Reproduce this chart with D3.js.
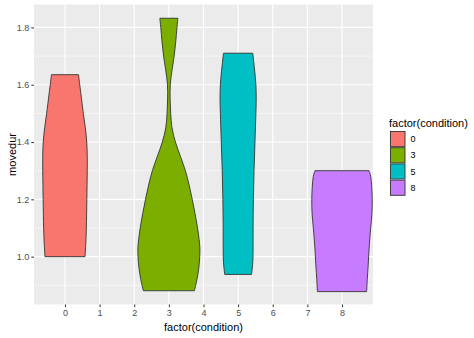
<!DOCTYPE html>
<html><head><meta charset="utf-8">
<script src="https://cdn.jsdelivr.net/npm/d3@7"></script>
<style>body{margin:0;background:#fff;} text{font-family:"Liberation Sans",Arial,sans-serif;}</style>
</head><body><svg id="c" width="474" height="338"></svg>
<script>
const categories = ["0","1","2","3","4","5","6","7","8"];
const groups = ["0","3","5","8"];
const groupColors = ["#F8766D","#7CAE00","#00BFC4","#C77CFF"];
const yTicks = [1.0,1.2,1.4,1.6,1.8];
const yMinor = [0.9,1.1,1.3,1.5,1.7];
// violin profiles: [movedur, relative density (1 = widest)]
const violin0 = [[1.0,.643],[1.05,.669],[1.1,.685],[1.2,.701],[1.3,.714],[1.35,.714],[1.4,.698],[1.45,.653],[1.5,.588],[1.55,.531],[1.6,.473],[1.635,.434]];
const violin3 = [[0.881,.82],[0.92,.90],[0.96,.96],[1.0,.99],[1.03,.995],[1.06,.97],[1.1,.92],[1.15,.84],[1.2,.75],[1.25,.65],[1.3,.53],[1.35,.37],[1.4,.21],[1.45,.10],[1.5,.058],[1.55,.04],[1.6,.045],[1.65,.10],[1.7,.17],[1.75,.22],[1.8,.26],[1.832,.29]];
const violin5 = [[0.938,.43],[0.98,.47],[1.05,.48],[1.1,.48],[1.2,.49],[1.3,.51],[1.4,.54],[1.5,.57],[1.55,.58],[1.6,.57],[1.65,.53],[1.7,.48],[1.71,.47]];
const violin8 = [[0.878,.79],[0.92,.81],[0.97,.84],[1.03,.87],[1.1,.92],[1.15,.96],[1.2,.97],[1.25,.95],[1.28,.92],[1.30,.87]];
const violins = [violin0, violin3, violin5, violin8];

const svg = d3.select("#c");
const P = {l:34, r:373, t:4.5, b:304.5};
const x = d3.scaleLinear().domain([-0.895, 8.895]).range([P.l, P.r]);
const y = d3.scaleLinear().domain([0.833, 1.880]).range([P.b, P.t]);
const w = d3.scaleLinear().domain([0,1]).range([0,0.9]); // density -> half width in x units

svg.append("rect").attr("x",P.l).attr("y",P.t).attr("width",P.r-P.l).attr("height",P.b-P.t).attr("fill","#EBEBEB");
const g = svg.append("g");
g.selectAll(".ymin").data(yMinor).join("line").attr("x1",P.l).attr("x2",P.r)
  .attr("y1",d=>y(d)).attr("y2",d=>y(d)).attr("stroke","#fff").attr("stroke-width",0.55);
g.selectAll(".ymaj").data(yTicks).join("line").attr("x1",P.l).attr("x2",P.r)
  .attr("y1",d=>y(d)).attr("y2",d=>y(d)).attr("stroke","#fff").attr("stroke-width",1.1);
g.selectAll(".xmaj").data(categories).join("line").attr("y1",P.t).attr("y2",P.b)
  .attr("x1",(d,i)=>x(i)).attr("x2",(d,i)=>x(i)).attr("stroke","#fff").attr("stroke-width",1.1);

violins.forEach((v,k)=>{
  const cx = categories.indexOf(groups[k]);
  const area = d3.area().curve(d3.curveCatmullRom.alpha(0.5))
    .y(d=>y(d[0]))
    .x0(d=>x(cx - w(d[1])))
    .x1(d=>x(cx + w(d[1])));
  svg.append("path").datum(v).attr("d",area)
    .attr("fill",groupColors[k]).attr("stroke","#333333").attr("stroke-width",0.9);
});

// axes
const yAxis = svg.append("g").attr("transform",`translate(${P.l},0)`)
  .call(d3.axisLeft(y).tickValues(yTicks).tickFormat(d3.format(".1f")).tickSize(2.7).tickPadding(2));
const xAxis = svg.append("g").attr("transform",`translate(0,${P.b})`)
  .call(d3.axisBottom(x).tickValues(d3.range(categories.length)).tickFormat(i=>categories[i]).tickSize(2.7).tickPadding(2.5));
[yAxis,xAxis].forEach(a=>{
  a.select(".domain").remove();
  a.selectAll(".tick line").attr("stroke","#333333").attr("stroke-width",1);
  a.selectAll(".tick text").attr("fill","#4D4D4D").style("font-size","9px");
});

svg.append("text").attr("x",(P.l+P.r)/2).attr("y",331).attr("text-anchor","middle")
  .style("font-size","11px").attr("fill","#000").text("factor(condition)");
svg.append("text").attr("transform",`translate(12.5,${(P.t+P.b)/2}) rotate(-90)`).attr("text-anchor","middle")
  .attr("dy","0.35em").style("font-size","11px").attr("fill","#000").text("movedur");

// legend
const L = svg.append("g");
L.append("text").attr("x",389).attr("y",126.5).style("font-size","11px").attr("fill","#000").text("factor(condition)");
const ks = 16.2;
groups.forEach((gname,i)=>{
  const ky = 131 + i*ks;
  L.append("rect").attr("x",389.5).attr("y",ky).attr("width",16).attr("height",ks).attr("fill","#F2F2F2");
  L.append("rect").attr("x",390.5).attr("y",ky+0.5).attr("width",14.5).attr("height",ks-1)
    .attr("fill",groupColors[i]).attr("stroke","#333333").attr("stroke-width",0.9);
  L.append("text").attr("x",410.5).attr("y",ky+ks/2).attr("dy","0.35em").style("font-size","9px").attr("fill","#000").text(gname);
});
</script></body></html>
